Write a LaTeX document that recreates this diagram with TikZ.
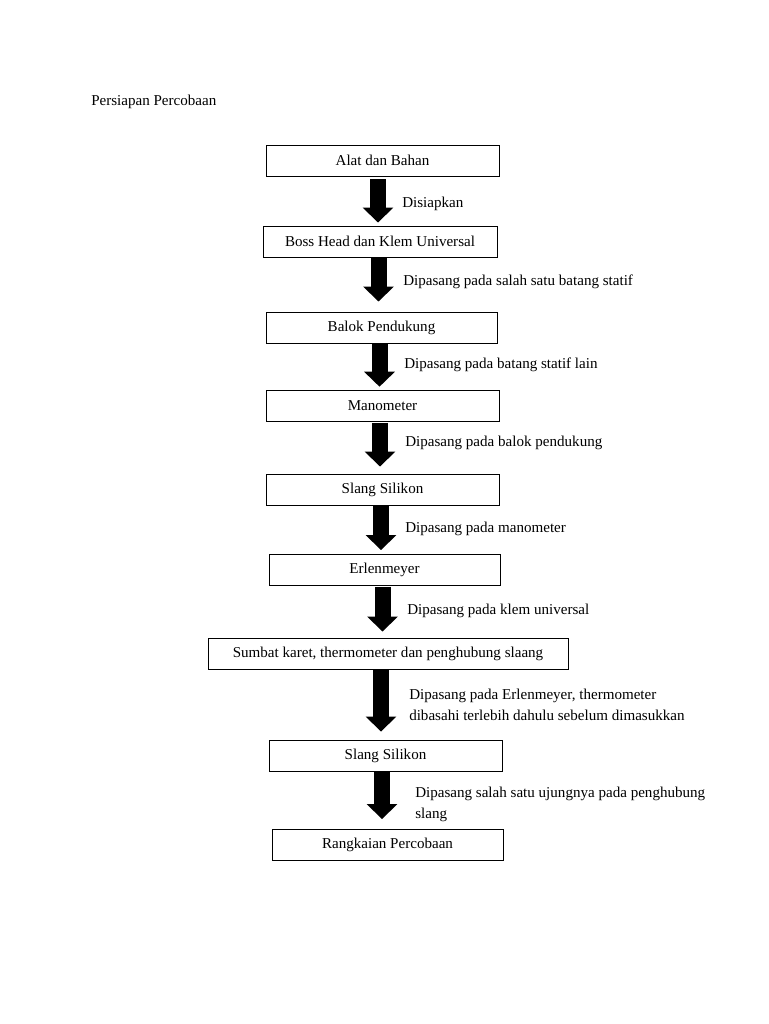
\documentclass[tikz,border=0pt]{standalone}
\usepackage{fontspec}
\setmainfont{Liberation Serif}
\usetikzlibrary{arrows.meta}
\begin{document}
\begin{tikzpicture}[x=0.75pt,y=-0.75pt,
  box/.style={draw,line width=0.7pt,inner sep=0pt,font=\fontsize{11.3pt}{13pt}\selectfont,minimum height=23.25pt},
  lbl/.style={anchor=west,inner sep=0pt,align=left,font=\fontsize{11.3pt}{15.75pt}\selectfont},
  flow/.style={line width=12pt,-{Triangle[width=22.5pt,length=11.25pt]}}]
\useasboundingbox (0,0) rectangle (768,1024);
\node[lbl] (title) at (91,102) {Persiapan Percobaan};
\node[box,minimum width=174.75pt] (b1) at (382.5,160.5) {Alat dan Bahan};
\node[box,minimum width=175.5pt] (b2) at (380,241.5) {Boss Head dan Klem Universal};
\node[box,minimum width=173.25pt] (b3) at (381.5,327.5) {Balok Pendukung};
\node[box,minimum width=174.75pt] (b4) at (382.5,406) {Manometer};
\node[box,minimum width=174.75pt] (b5) at (382.5,489.5) {Slang Silikon};
\node[box,minimum width=173.25pt] (b6) at (384.5,570) {Erlenmeyer};
\node[box,minimum width=270pt] (b7) at (388,653.5) {Sumbat karet, thermometer dan penghubung slaang};
\node[box,minimum width=174.75pt] (b8) at (385.5,755.5) {Slang Silikon};
\node[box,minimum width=173.25pt] (b9) at (387.5,845) {Rangkaian Percobaan};
\coordinate (x1) at (378,0);
\coordinate (x2) at (378.5,0);
\coordinate (x3) at (379.5,0);
\coordinate (x4) at (380,0);
\coordinate (x5) at (381,0);
\coordinate (x6) at (382.5,0);
\coordinate (x7) at (381,0);
\coordinate (x8) at (382,0);
\draw[flow] ([yshift=-2pt]b1.south -| x1) -- ([yshift=2.25pt]b2.north -| x1);
\draw[flow] ([yshift=-0.75pt]b2.south -| x2) -- ([yshift=7.5pt]b3.north -| x2);
\draw[flow] ([yshift=-0.75pt]b3.south -| x3) -- ([yshift=2.5pt]b4.north -| x3);
\draw[flow] ([yshift=-0.75pt]b4.south -| x4) -- ([yshift=5.25pt]b5.north -| x4);
\draw[flow] ([yshift=-0.75pt]b5.south -| x5) -- ([yshift=3pt]b6.north -| x5);
\draw[flow] ([yshift=-0.75pt]b6.south -| x6) -- ([yshift=4.5pt]b7.north -| x6);
\draw[flow] ([yshift=-0.75pt]b7.south -| x7) -- ([yshift=6pt]b8.north -| x7);
\draw[flow] ([yshift=-0.75pt]b8.south -| x8) -- ([yshift=7.5pt]b9.north -| x8);
\node[lbl] (l1) at (402,203.5) {Disiapkan};
\node[lbl] (l2) at (403,281.5) {Dipasang pada salah satu batang statif};
\node[lbl] (l3) at (404,364.5) {Dipasang pada batang statif lain};
\node[lbl] (l4) at (405,442.5) {Dipasang pada balok pendukung};
\node[lbl] (l5) at (405,528.5) {Dipasang pada manometer};
\node[lbl] (l6) at (407,610.5) {Dipasang pada klem universal};
\node[lbl] (l7) at (409,705) {Dipasang pada Erlenmeyer, thermometer\\dibasahi terlebih dahulu sebelum dimasukkan};
\node[lbl] (l8) at (415,804.5) {Dipasang salah satu ujungnya pada penghubung\\slang};
\end{tikzpicture}
\end{document}
